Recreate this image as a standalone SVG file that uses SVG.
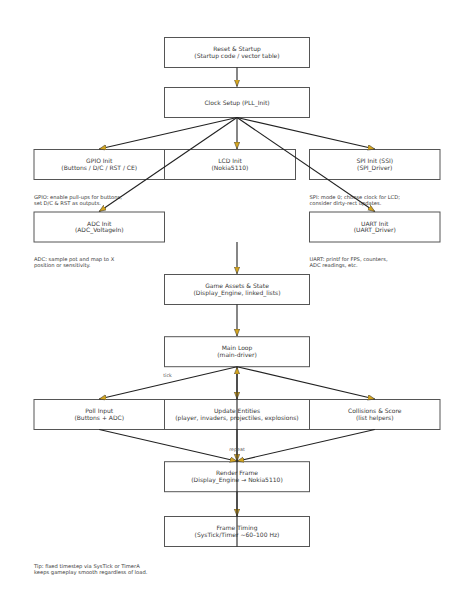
<svg xmlns="http://www.w3.org/2000/svg" width="474" height="609" viewBox="0 0 474 609">
<defs>
<style>
.box{fill:#ffffff;stroke:#555555;stroke-width:1}
.t{font-family:"DejaVu Sans",sans-serif;font-size:6px;fill:#3a3a3a;text-anchor:middle}
.n{font-family:"DejaVu Sans",sans-serif;font-size:5.2px;fill:#3a3a3a}
.l{font-family:"DejaVu Sans",sans-serif;font-size:4.8px;fill:#555555;text-anchor:middle}
.e{fill:none;stroke:#222222;stroke-width:1.1}
</style>
<marker id="ah" markerUnits="userSpaceOnUse" markerWidth="9" markerHeight="8" refX="7" refY="2.75" orient="auto">
<path d="M0,0 L7,2.75 L0,5.5 z" fill="#d4a520" stroke="#333333" stroke-width="0.5"/>
</marker>
</defs>
<rect width="474" height="609" fill="#ffffff"/>
<g id="nodes">
<g id="reset"><rect class="box" x="164.5" y="37.5" width="145" height="30"/><text class="t" x="237" y="50.8">Reset &amp; Startup</text><text class="t" x="237" y="57.8">(Startup code / vector table)</text></g>
<g id="clock"><rect class="box" x="164.5" y="87.5" width="145" height="30"/><text class="t" x="237" y="104.5">Clock Setup (PLL_Init)</text></g>
<g id="gpio"><rect class="box" x="34" y="149.5" width="130.5" height="30"/><text class="t" x="99.25" y="163">GPIO Init</text><text class="t" x="99.25" y="169.5">(Buttons / D/C / RST / CE)</text></g>
<g id="lcd"><rect class="box" x="164.5" y="149.5" width="131" height="30"/><text class="t" x="230" y="163">LCD Init</text><text class="t" x="230" y="169.5">(Nokia5110)</text></g>
<g id="spi"><rect class="box" x="309.5" y="149.5" width="130.5" height="30"/><text class="t" x="374.75" y="163">SPI Init (SSI)</text><text class="t" x="374.75" y="169.5">(SPI_Driver)</text></g>
<g id="adc"><rect class="box" x="34" y="212" width="130.5" height="30"/><text class="t" x="99.25" y="225.5">ADC Init</text><text class="t" x="99.25" y="232">(ADC_VoltageIn)</text></g>
<g id="uart"><rect class="box" x="309.5" y="212" width="130.5" height="30"/><text class="t" x="374.75" y="225.5">UART Init</text><text class="t" x="374.75" y="232">(UART_Driver)</text></g>
<g id="assets"><rect class="box" x="164.5" y="274.5" width="145" height="30"/><text class="t" x="237" y="287.6">Game Assets &amp; State</text><text class="t" x="237" y="294.6">(Display_Engine, linked_lists)</text></g>
<g id="mainloop"><rect class="box" x="164.5" y="336.7" width="145" height="30"/><text class="t" x="237" y="350">Main Loop</text><text class="t" x="237" y="357">(main-driver)</text></g>
<g id="poll"><rect class="box" x="34" y="399.5" width="130.5" height="30"/><text class="t" x="99.25" y="412.8">Poll Input</text><text class="t" x="99.25" y="419.5">(Buttons + ADC)</text></g>
<g id="update"><rect class="box" x="164.5" y="399.5" width="145" height="30"/><text class="t" x="237" y="412.8">Update Entities</text><text class="t" x="237" y="419.5">(player, invaders, projectiles, explosions)</text></g>
<g id="collisions"><rect class="box" x="309.5" y="399.5" width="130.5" height="30"/><text class="t" x="374.75" y="412.8">Collisions &amp; Score</text><text class="t" x="374.75" y="419.5">(list helpers)</text></g>
<g id="render"><rect class="box" x="164.5" y="461.7" width="145" height="30"/><text class="t" x="237" y="475">Render Frame</text><text class="t" x="237" y="481.8">(Display_Engine → Nokia5110)</text></g>
<g id="timing"><rect class="box" x="164.5" y="516.5" width="145" height="30"/><text class="t" x="237" y="529.8">Frame Timing</text><text class="t" x="237" y="536.6">(SysTick/Timer ~60–100 Hz)</text></g>
</g>
<g id="notes">
<text class="n" x="34" y="198.8">GPIO: enable pull-ups for buttons;</text>
<text class="n" x="34" y="204.8">set D/C &amp; RST as outputs.</text>
<text class="n" x="309.5" y="198.8">SPI: mode 0; choose clock for LCD;</text>
<text class="n" x="309.5" y="204.8">consider dirty-rect updates.</text>
<text class="n" x="34" y="260.8">ADC: sample pot and map to X</text>
<text class="n" x="34" y="267">position or sensitivity.</text>
<text class="n" x="309.5" y="260.8">UART: printf for FPS, counters,</text>
<text class="n" x="309.5" y="267">ADC readings, etc.</text>
<text class="n" x="34" y="568">Tip: fixed timestep via SysTick or TimerA</text>
<text class="n" x="34" y="574">keeps gameplay smooth regardless of load.</text>
</g>
<g id="connectors">
<line class="e" x1="237" y1="67.5" x2="237" y2="86.5" marker-end="url(#ah)"/>
<line class="e" x1="237" y1="117.5" x2="99.25" y2="149" marker-end="url(#ah)"/>
<line class="e" x1="237" y1="117.5" x2="237" y2="149" marker-end="url(#ah)"/>
<line class="e" x1="237" y1="117.5" x2="374.75" y2="149" marker-end="url(#ah)"/>
<line class="e" x1="237" y1="117.5" x2="99.25" y2="211.5" marker-end="url(#ah)"/>
<line class="e" x1="237" y1="117.5" x2="374.75" y2="211.5" marker-end="url(#ah)"/>
<line class="e" x1="237" y1="242" x2="237" y2="273.8" marker-end="url(#ah)"/>
<line class="e" x1="237" y1="304.5" x2="237" y2="336" marker-end="url(#ah)"/>
<line class="e" x1="237" y1="366.7" x2="99.25" y2="399" marker-end="url(#ah)"/>
<line class="e" x1="237" y1="366.7" x2="237" y2="399" marker-end="url(#ah)"/>
<line class="e" x1="237" y1="366.7" x2="374.75" y2="399" marker-end="url(#ah)"/>
<line class="e" x1="99.25" y1="429.5" x2="237" y2="461.2" marker-end="url(#ah)"/>
<line class="e" x1="237" y1="429.5" x2="237" y2="461.2" marker-end="url(#ah)"/>
<line class="e" x1="374.75" y1="429.5" x2="237" y2="461.2" marker-end="url(#ah)"/>
<line class="e" x1="237" y1="491.7" x2="237" y2="516" marker-end="url(#ah)"/>
<line class="e" x1="237" y1="546.5" x2="237" y2="367.2" marker-end="url(#ah)"/>
<text class="l" x="167.5" y="377.3">tick</text>
<text class="l" x="237" y="451">repeat</text>
</g>
</svg>
